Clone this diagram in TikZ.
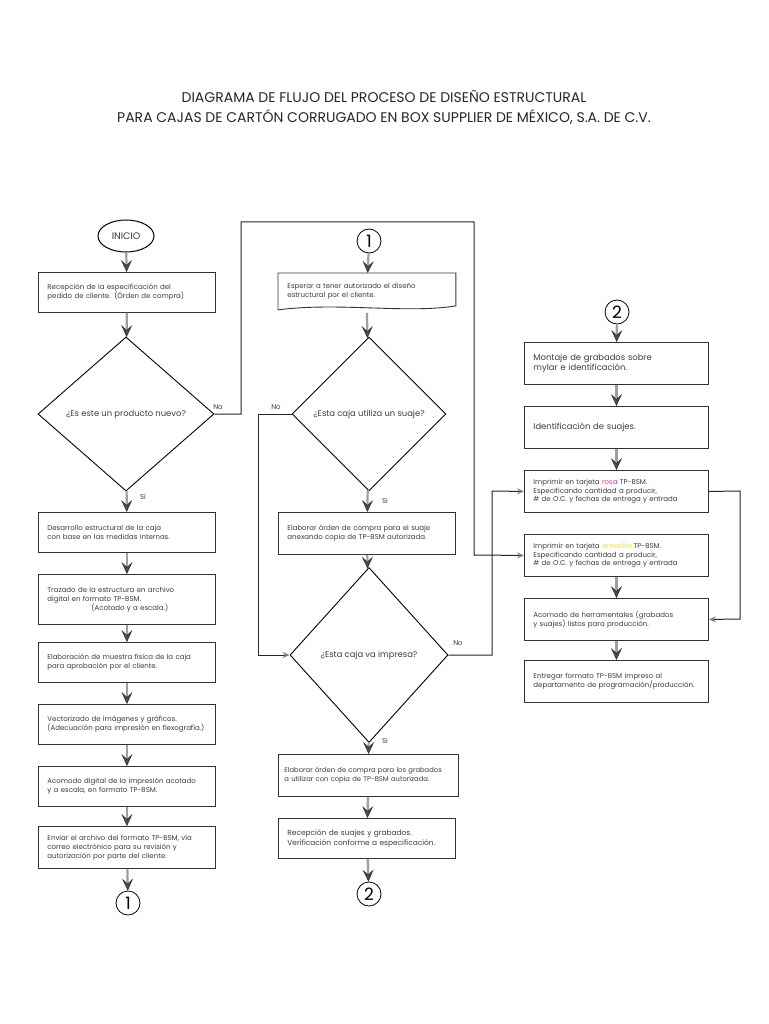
\documentclass[tikz,border=0pt]{standalone}
\usepackage{fontspec}
\setmainfont{Poppins}
\usetikzlibrary{shapes.geometric,arrows.meta}
\definecolor{txt}{RGB}{60,60,60}
\begin{document}
\hyphenpenalty=10000 \exhyphenpenalty=10000
\begin{tikzpicture}[x=1pt,y=-1pt,
  every node/.style={text=txt},
  box/.style={draw=black!80,line width=0.9pt,minimum height=40pt,text width=#1,inner xsep=9pt,align=left,font=\fontsize{7}{8.8}\selectfont,anchor=north west},
  box/.default=159pt,
  dia/.style={draw=black,line width=0.9pt,diamond,inner sep=0pt,font=\fontsize{8.4}{10}\selectfont},
  circ/.style={draw=black,line width=0.8pt,circle,minimum size=24pt,inner sep=0pt,font=\fontsize{17}{17}\selectfont,text=black},
  flow/.style={draw=gray!75,line width=2.2pt,-{Stealth[length=12pt,width=11pt,inset=5pt,fill=gray!60!black,color=gray!40!black,line width=0.6pt]}},
  link/.style={draw=black!85,line width=1pt,-{Stealth[length=7pt,width=6pt,fill=gray,color=gray]}},
  lab/.style={font=\fontsize{7}{8}\selectfont}]
\useasboundingbox (0,0) rectangle (768,1024);
\fill[white] (0,0) rectangle (768,1024);
\node[font=\fontsize{14}{20}\selectfont,text=black!85,align=center] (title) at (384,108)
 {DIAGRAMA DE FLUJO DEL PROCESO DE DISEÑO ESTRUCTURAL\\PARA CAJAS DE CARTÓN CORRUGADO EN BOX SUPPLIER DE MÉXICO, S.A. DE C.V.};
% left column
\node[draw=black,line width=1pt,ellipse,minimum width=56pt,minimum height=32pt,font=\fontsize{9.5}{9.5}\selectfont] (ini) at (126,236) {INICIO};
\node[box] (b1) at (38,272) {Recepción de la especificación del\\pedido de cliente. (Órden de compra)};
\node[dia,minimum width=176pt,minimum height=154pt] (d1) at (126,414) {¿Es este un producto nuevo?};
\node[box] (b2) at (38,512) {Desarrollo estructural de la caja\\con base en las medidas internas.};
\node[box,minimum height=50pt] (b3) at (38,574) {Trazado de la estructura en archivo\\digital en formato TP-BSM.\\\hspace*{44pt}(Acotado y a escala.)};
\node[box] (b4) at (38,642) {Elaboración de muestra física de la caja\\para aprobación por el cliente.};
\node[box] (b5) at (38,704) {Vectorizado de imágenes y gráficos.\\(Adecuación para impresión en flexografía.)};
\node[box] (b6) at (38,766) {Acomodo digital de la impresión acotado\\y a escala, en formato TP-BSM.};
\node[box,minimum height=42pt] (b7) at (38,826) {Enviar el archivo del formato TP-BSM, vía\\correo electrónico para su revisión y\\autorización por parte del cliente.};
\node[circ] (c1a) at (128,903) {1};
\draw[flow] (ini) -- (b1);
\draw[flow] (b1) -- (d1);
\draw[flow] (d1) -- (b2);
\draw[flow] (b2) -- (b3);
\draw[flow] (b3) -- (b4);
\draw[flow] (b4) -- (b5);
\draw[flow] (b5) -- (b6);
\draw[flow] (b6) -- (b7);
\draw[flow] (b7) -- (c1a);
\node[lab] (no1) at (218,407) {No};
\node[lab] (si1) at (143,497) {Si};
% middle column
\node[circ] (c1b) at (369,241) {1};
\node[box,draw=none,minimum height=36pt] (m1) at (278,273) {Esperar a tener autorizado el diseño\\estructural por el cliente.};
\draw[black!80,line width=0.9pt] (m1.south west) -- (m1.north west) -- (m1.north east) -- ([yshift=4pt]m1.south east)
  .. controls ([xshift=-50pt,yshift=-4pt]m1.south east) and ([xshift=60pt,yshift=8pt]m1.south west) .. (m1.south west);
\node[dia,minimum width=154pt,minimum height=154pt] (d2) at (369,414) {¿Esta caja utiliza un suaje?};
\node[box,minimum height=42pt] (m2) at (278,512) {Elaborar órden de compra para el suaje\\anexando copia de TP-BSM autorizada.};
\node[dia,minimum width=158pt,minimum height=175pt] (d3) at (369,655) {¿Esta caja va impresa?};
\node[box,minimum height=42pt,inner xsep=6pt,text width=168pt,font=\fontsize{6.8}{8.6}\selectfont] (m3) at (278,754) {Elaborar órden de compra para los grabados\\a utilizar con copia de TP-BSM autorizada.};
\node[box,font=\fontsize{7.4}{9.4}\selectfont] (m4) at (278,818) {Recepción de suajes y grabados.\\Verificación conforme a especificación.};
\node[circ] (c2a) at (369,894) {2};
\draw[flow] (c1b) -- (m1);
\draw[flow] ([yshift=-3pt]m1.south) -- (d2);
\draw[flow] (d2) -- (m2);
\draw[flow] (m2) -- (d3);
\draw[flow] (d3) -- (m3);
\draw[flow] (m3) -- (m4);
\draw[flow] (m4) -- (c2a);
\node[lab] (no2) at (276,407) {No};
\node[lab] (si2) at (385,501) {Si};
\node[lab] (no3) at (458,643) {No};
\node[lab] (si3) at (385,741) {Si};
% right column
\node[circ] (c2b) at (617,312) {2};
\node[box=166pt,minimum height=42pt,font=\fontsize{8.4}{10.5}\selectfont] (r1) at (524,342) {Montaje de grabados sobre\\mylar e identificación.};
\node[box=166pt,minimum height=42pt,font=\fontsize{8.4}{10.5}\selectfont] (r2) at (524,406) {Identificación de suajes.};
\node[box=166pt,minimum height=42pt] (r3) at (524,470) {Imprimir en tarjeta \textcolor{magenta!80!white}{rosa} TP-BSM.\\Especificando cantidad a producir,\\\# de O.C. y fechas de entrega y entrada};
\node[box=166pt,minimum height=42pt] (r4) at (524,534) {Imprimir en tarjeta \textcolor{yellow!90!orange}{amarilla} TP-BSM.\\Especificando cantidad a producir,\\\# de O.C. y fechas de entrega y entrada};
\node[box=166pt,minimum height=42pt] (r5) at (524,598) {Acomodo de herramentales (grabados\\y suajes) listos para producción.};
\node[box=166pt,minimum height=42pt] (r6) at (524,660) {Entregar formato TP-BSM impreso al\\departamento de programación/producción.};
\draw[flow] (c2b) -- (r1);
\draw[flow] (r1) -- (r2);
\draw[flow] (r2) -- (r3);
\draw[flow] (r4) -- (r5);
\draw[flow] (r5) -- (r6);
% side links
\coordinate (k1) at (241,414); \coordinate (k2) at (241,222); \coordinate (k3) at (474,222); \coordinate (k4) at (474,555);
\draw[link] (d1.east) -- (k1) -- (k2) -- (k3) -- (k4) -- (r4.west);
\coordinate (k5) at (258,414); \coordinate (k6) at (258,655);
\draw[link] (d2.west) -- (k5) -- (k6) -- (d3.west);
\coordinate (k7) at (492,655); \coordinate (k8) at (492,491);
\draw[link] (d3.east) -- (k7) -- (k8) -- (r3.west);
\coordinate (k9) at (740,491); \coordinate (k10) at (740,619);
\draw[link] (r3.east) -- (k9) -- (k10) -- (r5.east);
\end{tikzpicture}
\end{document}
